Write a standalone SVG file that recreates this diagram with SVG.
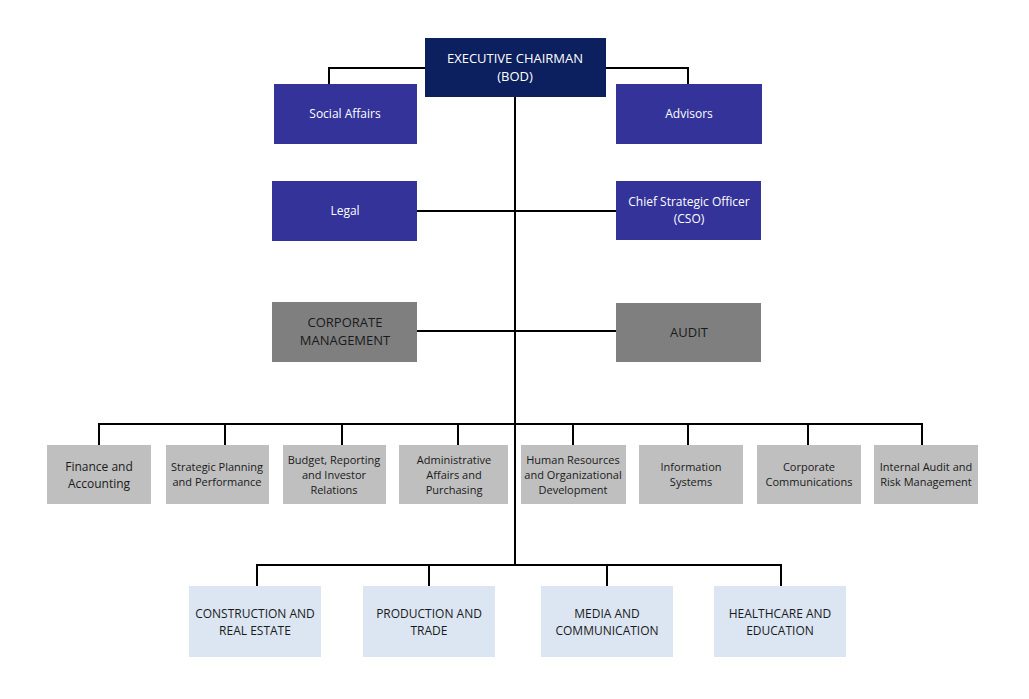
<svg xmlns="http://www.w3.org/2000/svg" width="1029" height="699" viewBox="0 0 1029 699">
<style>
text{font-family:"Open Sans","Liberation Sans",sans-serif;text-anchor:middle}
.ex{fill:#0c1f5e}.bl{fill:#333399}.gr{fill:#7f7f7f}.lg{fill:#bfbfbf}.pb{fill:#dce6f2}
.w{fill:#fff;font-size:12px}.wt{fill:#fff;font-size:13px}.d{fill:#1a1a1a;font-size:13px}.s{fill:#1a1a1a;font-size:11px}.b{fill:#1a1a1a;font-size:12px}
#connectors path{stroke:#000;stroke-width:2;fill:none}
</style>
<rect width="1029" height="699" fill="#fff"/>
<g id="connectors">
<path d="M515 97V565M425 68H329V84M606 68H688V84M417 211H616M417 331H616M99 445V424H922V445M225 424V445M342 424V445M458 424V445M573 424V445M688 424V445M808 424V445M257 586V565H781V586M429 565V586M607 565V586"/>
</g>
<g id="exec"><rect class="ex" x="425" y="38" width="181" height="59"/><text class="wt" x="515" y="63">EXECUTIVE CHAIRMAN</text><text class="wt" x="515" y="81">(BOD)</text></g>
<g id="social"><rect class="bl" x="274" y="84" width="143" height="60"/><text class="w" x="345" y="118">Social Affairs</text></g>
<g id="advisors"><rect class="bl" x="616" y="84" width="146" height="60"/><text class="w" x="689" y="118">Advisors</text></g>
<g id="legal"><rect class="bl" x="272" y="181" width="145" height="60"/><text class="w" x="345" y="215">Legal</text></g>
<g id="cso"><rect class="bl" x="616" y="181" width="145" height="59"/><text class="w" x="689" y="206">Chief Strategic Officer</text><text class="w" x="689" y="223">(CSO)</text></g>
<g id="corp"><rect class="gr" x="272" y="302" width="145" height="60"/><text class="d" x="345" y="327">CORPORATE</text><text class="d" x="345" y="345">MANAGEMENT</text></g>
<g id="audit"><rect class="gr" x="616" y="303" width="145" height="59"/><text class="d" x="689" y="337">AUDIT</text></g>
<g id="fin"><rect class="lg" x="47" y="445" width="104" height="59"/><text class="b" x="99" y="471">Finance and</text><text class="b" x="99" y="488">Accounting</text></g>
<g id="spp"><rect class="lg" x="166" y="445" width="103" height="59"/><text class="s" x="217" y="471">Strategic Planning</text><text class="s" x="217" y="486">and Performance</text></g>
<g id="brir"><rect class="lg" x="283" y="445" width="103" height="59"/><text class="s" x="334" y="464">Budget, Reporting</text><text class="s" x="334" y="479">and Investor</text><text class="s" x="334" y="494">Relations</text></g>
<g id="aap"><rect class="lg" x="399" y="445" width="109" height="59"/><text class="s" x="454" y="464">Administrative</text><text class="s" x="454" y="479">Affairs and</text><text class="s" x="454" y="494">Purchasing</text></g>
<g id="hr"><rect class="lg" x="521" y="445" width="105" height="59"/><text class="s" x="573" y="464">Human Resources</text><text class="s" x="573" y="479">and Organizational</text><text class="s" x="573" y="494">Development</text></g>
<g id="is"><rect class="lg" x="639" y="445" width="104" height="59"/><text class="s" x="691" y="471">Information</text><text class="s" x="691" y="486">Systems</text></g>
<g id="cc"><rect class="lg" x="757" y="445" width="104" height="59"/><text class="s" x="809" y="471">Corporate</text><text class="s" x="809" y="486">Communications</text></g>
<g id="iarm"><rect class="lg" x="874" y="445" width="104" height="59"/><text class="s" x="926" y="471">Internal Audit and</text><text class="s" x="926" y="486">Risk Management</text></g>
<g id="cre"><rect class="pb" x="189" y="586" width="132" height="71"/><text class="b" x="255" y="618">CONSTRUCTION AND</text><text class="b" x="255" y="635">REAL ESTATE</text></g>
<g id="pt"><rect class="pb" x="363" y="586" width="132" height="71"/><text class="b" x="429" y="618">PRODUCTION AND</text><text class="b" x="429" y="635">TRADE</text></g>
<g id="mc"><rect class="pb" x="541" y="586" width="132" height="71"/><text class="b" x="607" y="618">MEDIA AND</text><text class="b" x="607" y="635">COMMUNICATION</text></g>
<g id="he"><rect class="pb" x="714" y="586" width="132" height="71"/><text class="b" x="780" y="618">HEALTHCARE AND</text><text class="b" x="780" y="635">EDUCATION</text></g>
</svg>
